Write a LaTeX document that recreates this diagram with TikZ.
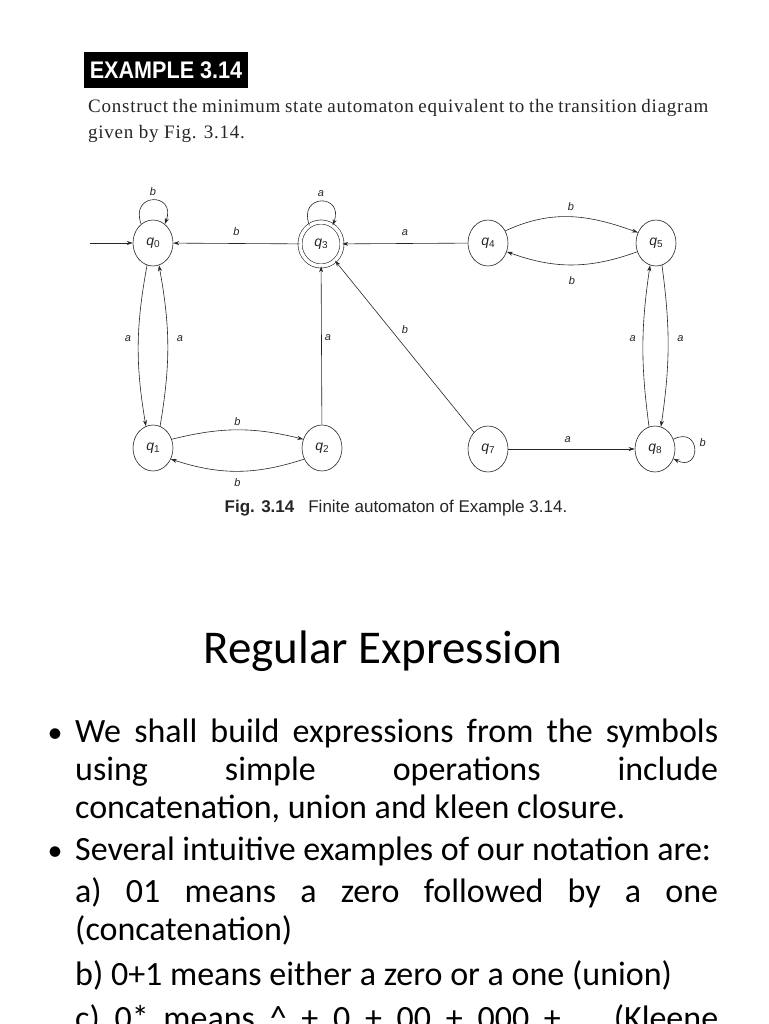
\documentclass[tikz,border=0pt]{standalone}
\usepackage{fontspec}
\setmainfont{Carlito}
\newfontfamily\scanserif[LetterSpace=4]{Liberation Serif}
\newfontfamily\scansans{Liberation Sans}
\newfontfamily\scancond[FakeStretch=0.9]{Liberation Sans}
\usetikzlibrary{arrows.meta,shapes.geometric}
\newcommand{\qst}[1]{\textit{q}\raisebox{-2.5pt}{\fontsize{10}{10}\selectfont #1}}
\tikzset{
  stt/.style={ellipse, draw=black!85, line width=0.6pt, minimum width=40pt, minimum height=46pt, inner sep=0pt,
    font=\scansans\fontsize{14}{14}\selectfont, text=black!85},
  accstt/.style={stt, minimum width=42pt, minimum height=44pt, double, double distance=3.5pt},
  arr/.style={draw=black!85, line width=0.6pt, -{Stealth[length=6pt,width=4pt]}},
  lab/.style={font=\scansans\itshape\fontsize{11}{11}\selectfont, text=black!85, inner sep=1pt},
  body/.style={anchor=base west, inner sep=0pt, font=\fontsize{34}{38}\selectfont},
  bul/.style={anchor=base, inner sep=0pt, font=\fontsize{30}{38}\selectfont},
}
\begin{document}
\begin{tikzpicture}[x=1pt,y=-1pt]
\useasboundingbox (0,0) rectangle (768,1024);
\fill[white] (0,0) rectangle (768,1024);
% header
\node[fill=black, text=white, minimum width=164pt, minimum height=36pt, inner sep=0pt,
  font=\scancond\bfseries\fontsize{24}{24}\selectfont] (hdr) at (166,70) {EXAMPLE 3.14};
\node[anchor=base west, inner sep=0pt, font=\scanserif\fontsize{19}{19}\selectfont, text=black!85] (t1) at (88,113)
  {\makebox[620pt][s]{Construct the minimum state automaton equivalent to the transition diagram}};
\node[anchor=base west, inner sep=0pt, font=\scanserif\fontsize{19}{19}\selectfont, text=black!85] (t2) at (88,139)
  {given by Fig. 3.14.};
% states
\node[stt] (q0) at (153,243) {\qst{0}};
\node[accstt] (q3) at (321,244) {\qst{3}};
\node[stt] (q4) at (488,243) {\qst{4}};
\node[stt] (q5) at (656,243) {\qst{5}};
\node[stt] (q1) at (153,448) {\qst{1}};
\node[stt] (q2) at (322,448) {\qst{2}};
\node[stt] (q7) at (488,449) {\qst{7}};
\node[stt] (q8) at (655,449) {\qst{8}};
\coordinate (start) at (90,243);
% edges
\draw[arr] (start) -- (q0);
\draw[arr] (q0.122) .. controls +(-12,-32) and +(12,-32) .. node[lab, above=3pt] {b} (q0.58);
\draw[arr] (q3.122) .. controls +(-12,-32) and +(12,-32) .. node[lab, above=3pt] {a} (q3.58);
\draw[arr] (q3) -- node[lab, above=7pt] {b} (q0);
\draw[arr] (q4) -- node[lab, above=7pt] {a} (q3);
\draw[arr] (q4.35) to[out=25, in=160] node[lab, above=5pt] {b} (q5.150);
\draw[arr] (q5.205) to[out=200, in=-20] node[lab, below=10pt] {b} (q4.-25);
\draw[arr] (q0.255) to[bend right=10] node[lab, pos=0.45, left=6pt] {a} (q1.108);
\draw[arr] (q1.72) to[bend right=10] node[lab, pos=0.55, right=8pt] {a} (q0.285);
\draw[arr] (q2) -- node[lab, pos=0.55, right=2pt] {a} (q3);
\draw[arr] (q1.25) to[bend left=14] node[lab, above=3pt] {b} (q2.155);
\draw[arr] (q2.212) to[bend left=18] node[lab, below=6pt] {b} (q1.-32);
\draw[arr] (q7.130) -- node[lab, pos=0.55, above right=3pt] {b} (q3.-50);
\draw[arr] (q7) -- node[lab, pos=0.47, above=5pt] {a} (q8);
\draw[arr] (q8.105) to[bend left=8] node[lab, pos=0.55, left=6pt] {a} (q5.255);
\draw[arr] (q5.-75) to[bend left=8] node[lab, pos=0.45, right=8pt] {a} (q8.75);
\draw[arr] (q8.28) .. controls +(28,-14) and +(28,14) .. node[lab, right=4pt, yshift=6pt] {b} (q8.-28);
\node[font=\scansans\fontsize{17}{17}\selectfont, text=black!85] (cap) at (396,508)
  {\textbf{Fig. 3.14}\hspace{14pt}Finite automaton of Example 3.14.};
% lower slide
\node[font=\fontsize{47}{47}\selectfont, inner sep=0pt, anchor=base] (title) at (383,663) {Regular Expression};
\node[bul] (b1) at (55,742) {•};
\node[body] (l1) at (75,742) {\makebox[643pt][s]{We shall build expressions from the symbols}};
\node[body] (l2) at (75,780) {\makebox[643pt][s]{using simple operations include}};
\node[body] (l3) at (75,818) {concatenation, union and kleen closure.};
\node[bul] (b2) at (55,860) {•};
\node[body] (l4) at (75,860) {Several intuitive examples of our notation are:};
\node[body] (l5) at (75,902) {\makebox[643pt][s]{a) 01 means a zero followed by a one}};
\node[body] (l6) at (75,940) {(concatenation)};
\node[body] (l7) at (75,985) {b) 0+1 means either a zero or a one (union)};
\node[body] (l8) at (75,1029) {\makebox[643pt][s]{c) 0* means \textasciicircum{} + 0 + 00 + 000 + \ldots{} (Kleene}};
\end{tikzpicture}
\end{document}
